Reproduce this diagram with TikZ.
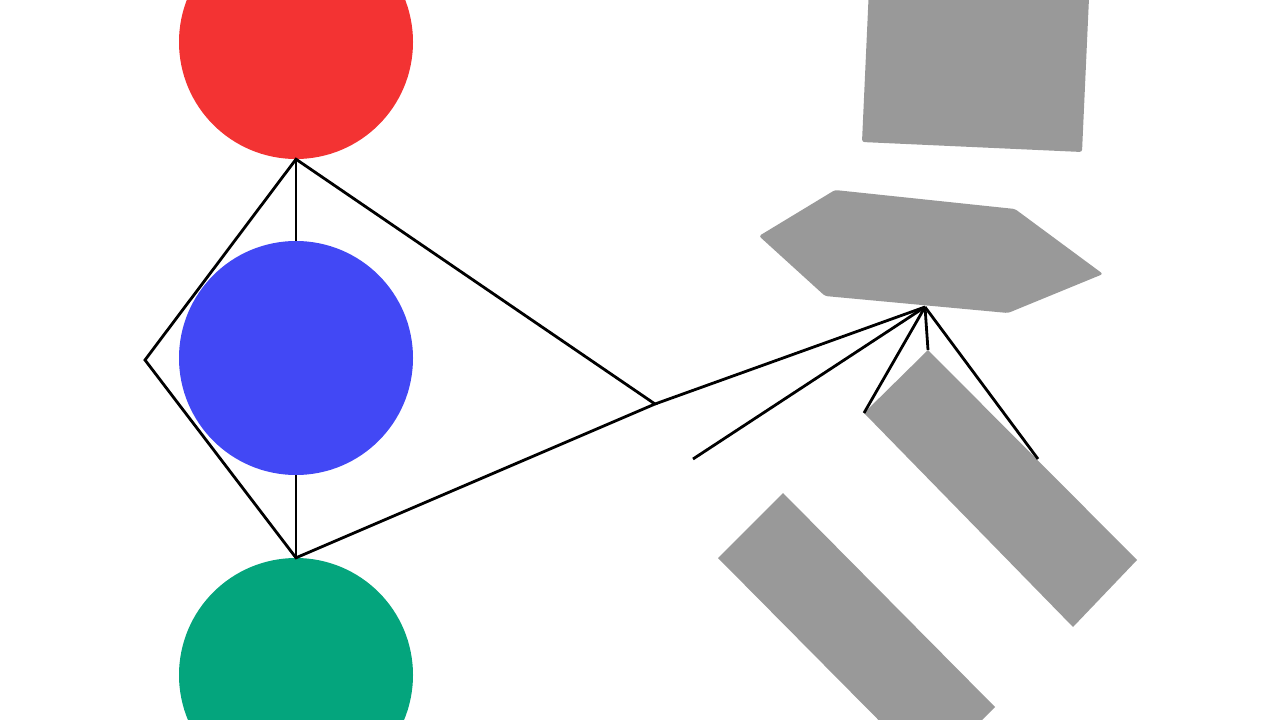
\documentclass[tikz,border=0pt]{standalone}
\usepackage{tikz}

\definecolor{ballred}{HTML}{F33333}
\definecolor{ballblue}{HTML}{4248F5}
\definecolor{ballgreen}{HTML}{04A57D}
\definecolor{slab}{HTML}{999999}

\tikzset{
  ball/.style={circle, inner sep=0pt, minimum size=234pt},
  wire/.style={black, line width=2.8pt},
  slabfill/.style={fill=slab, rounded corners=2.5pt}
}

\begin{document}
\begin{tikzpicture}[x=1pt, y=-1pt]
        \useasboundingbox (0,0) rectangle (1280,720);
        \clip (0,0) rectangle (1280,720);

        % balls on the left
        \node[ball, fill=ballred] (redball) at (296,42) {};
        \node[ball, fill=ballblue] (blueball) at (296,358) {};
        \node[ball, fill=ballgreen] (greenball) at (296,675) {};

        % grey slabs
        \fill[slabfill] (872,-78) -- (862,142) -- (1082,152) -- (1092,-68) -- cycle;
        \fill[slabfill] (835,190) -- (1015,209) -- (1103,274) -- (1008,313) -- (825,296) -- (759,236) -- cycle;
        \fill[slab] (928,350) -- (1137,560) -- (1073,627) -- (864,413) -- cycle;
        \fill[slab] (783,493) -- (995,707) -- (930,772) -- (718,558) -- cycle;

        \coordinate (kiteleft) at (145,360);
        \coordinate (kiteright) at (655,404);
        \coordinate (hub) at (925,307);
        \coordinate (loose) at (693,459);
        \coordinate (slableft) at (864,413);
        \coordinate (slabtop) at (928,350);
        \coordinate (slabedge) at (1038,459);

        % the kite round the blue ball
        \draw[wire] (redball.south) -- (blueball.north);
        \draw[wire] (blueball.south) -- (greenball.north);
        \draw[wire, line join=miter] (redball.south) -- (kiteleft) -- (greenball.north) -- (kiteright) -- cycle;

        % fan from the hub
        \draw[wire] (kiteright) -- (hub);
        \draw[wire] (hub) -- (loose);
        \draw[wire] (hub) -- (slableft);
        \draw[wire] (hub) -- (slabtop);
        \draw[wire] (hub) -- (slabedge);
\end{tikzpicture}
\end{document}
